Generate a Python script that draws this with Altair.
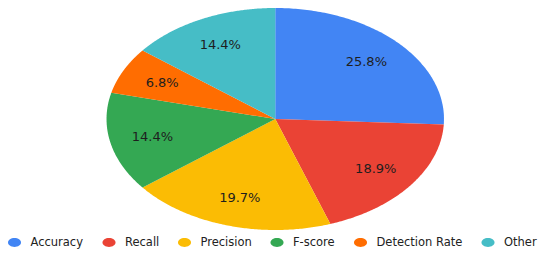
import altair as alt
import pandas as pd

categories = ["Accuracy", "Recall", "Precision", "F-score", "Detection Rate", "Other"]
values = [25.8, 18.9, 19.7, 14.4, 6.8, 14.4]
labels = ["25.8%", "18.9%", "19.7%", "14.4%", "6.8%", "14.4%"]
colors = ["#4285F4", "#EA4335", "#FBBC04", "#34A853", "#FF6D01", "#46BDC6"]

df = pd.DataFrame({
    "idx": list(range(len(categories))),
    "category": categories,
    "value": values,
    "label": labels,
})

base = alt.Chart(df).transform_window(
    cum="sum(value)", sort=[alt.SortField("idx")], frame=[None, 0]
).transform_joinaggregate(
    total="sum(value)"
).transform_calculate(
    start="(datum.cum - datum.value) / datum.total * 2 * PI",
    end="datum.cum / datum.total * 2 * PI",
)

xs = alt.Scale(domain=[-1.584, 1.581], nice=False, zero=False)
ys = alt.Scale(domain=[-1.2432, 1.0], nice=False, zero=False)

ellipse_symbol = "M-1,0A1,0.68,0,1,1,1,0A1,0.68,0,1,1,-1,0Z"

pie = base.transform_calculate(
    steps="sequence(-1, 121)"
).transform_flatten(["steps"]).transform_calculate(
    a="datum.start + (datum.end - datum.start) * max(datum.steps, 0) / 120",
    r="datum.steps < 0 ? 0 : 1",
).transform_calculate(
    px="datum.r * sin(datum.a)",
    py="datum.r * cos(datum.a)",
).mark_line(strokeWidth=0, interpolate="linear").encode(
    x=alt.X("px:Q", scale=xs, axis=None),
    y=alt.Y("py:Q", scale=ys, axis=None),
    detail="category:N",
    order=alt.Order("steps:Q"),
    fill=alt.Fill(
        "category:N",
        scale=alt.Scale(domain=categories, range=colors),
        legend=alt.Legend(
            title=None,
            orient="none",
            direction="horizontal",
            legendX=0,
            legendY=228,
            symbolType=ellipse_symbol,
            symbolSize=169,
            symbolStrokeWidth=0,
            labelFont="DejaVu Sans",
            labelFontSize=11.5,
            labelColor="#222222",
            labelOffset=9.5,
            columnPadding=18.5,
        ),
    ),
)

text = base.transform_calculate(
    mid="(datum.start + datum.end) / 2",
).transform_calculate(
    tx="0.745 * sin(datum.mid)",
    ty="0.745 * cos(datum.mid)",
).mark_text(font="DejaVu Sans", fontSize=13, color="#1e1e1e").encode(
    x=alt.X("tx:Q", scale=xs, axis=None),
    y=alt.Y("ty:Q", scale=ys, axis=None),
    text="label:N",
)

chart = alt.layer(pie, text).properties(
    width=534, height=249, autosize=alt.AutoSizeParams(type="none"), padding=0,
).configure_view(stroke=None)

chart.save("out.html", embed_options={"renderer": "svg", "actions": False})
